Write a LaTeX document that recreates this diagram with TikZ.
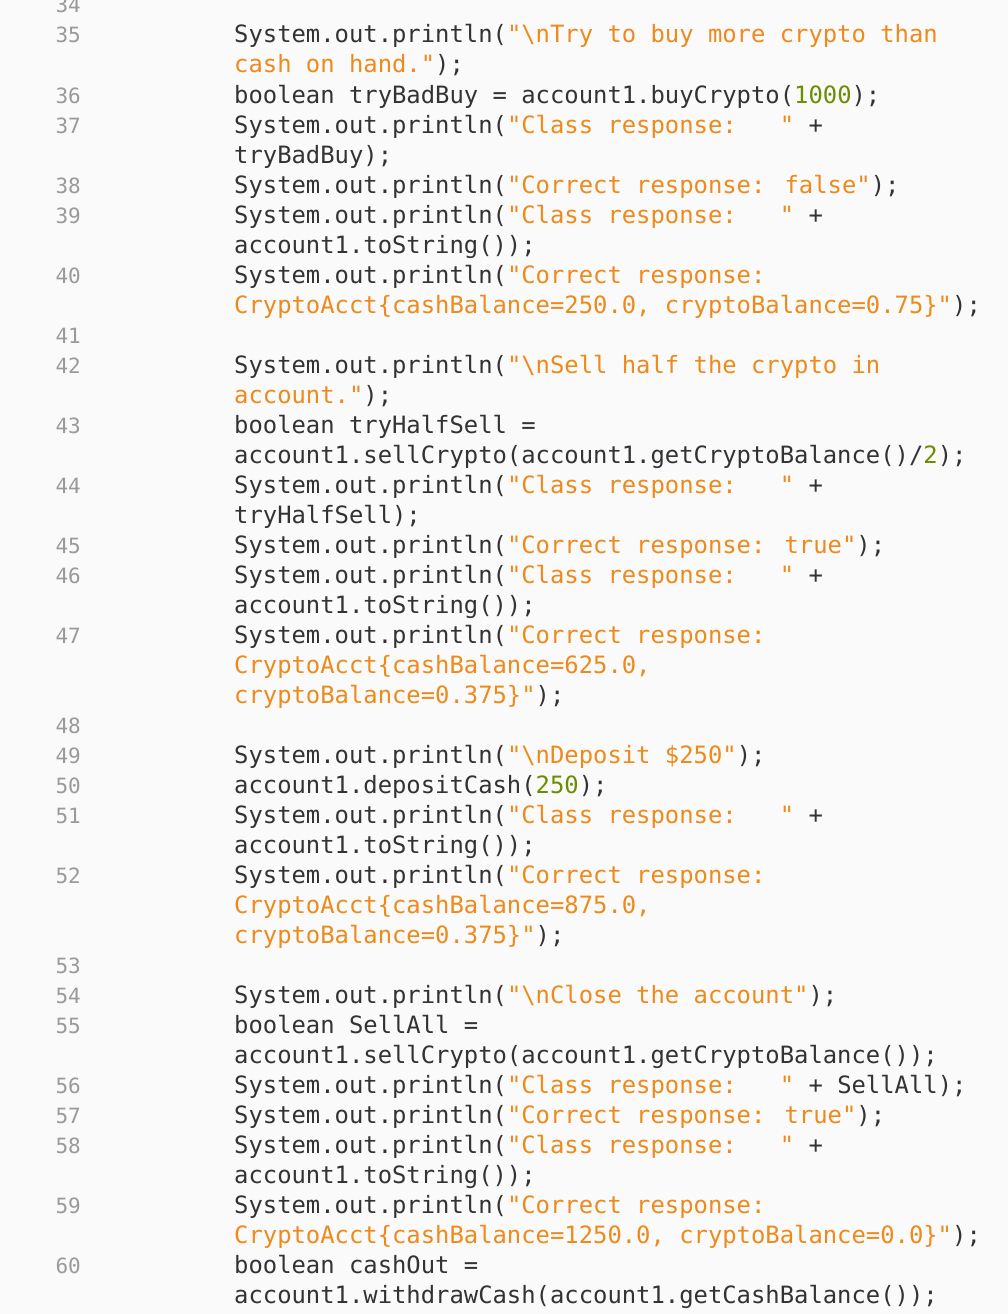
\documentclass[tikz,border=0pt]{standalone}
\usepackage{fontspec}
\newfontfamily\code{DejaVu Sans Mono}
\definecolor{bg}{HTML}{FAFAFA}
\definecolor{txt}{HTML}{333333}
\definecolor{str}{HTML}{EE8A1B}
\definecolor{num}{HTML}{6B8E00}
\definecolor{lno}{HTML}{9A9A9A}
\newcommand{\St}[1]{\textcolor{str}{#1}}
\newcommand{\Nm}[1]{\textcolor{num}{#1}}
\newcommand{\bs}{\textbackslash}
\tikzset{cl/.style={anchor=base west,inner sep=0pt,font=\code\fontsize{23.85}{28}\selectfont,text=txt},
ln/.style={anchor=base east,inner sep=0pt,font=\code\fontsize{21}{26}\selectfont,text=lno}}
\begin{document}
\begin{tikzpicture}[x=1pt,y=-1pt]
\fill[bg] (0,0) rectangle (1008,1314);
\useasboundingbox (0,0) rectangle (1008,1314);
\newcommand{\R}[3]{\node[ln] (n#1) at (81,{43+30*#1}) {#2}; \node[cl] (c#1) at (234,{43+30*#1}) {#3};}
\R{-1}{34}{}
\R{0}{35}{System.out.println(\St{"\bs nTry to buy more crypto than}}
\R{1}{}{\St{cash on hand."});}
\R{2}{36}{boolean tryBadBuy = account1.buyCrypto(\Nm{1000});}
\R{3}{37}{System.out.println(\St{"Class response:\ \ \ "} + }
\R{4}{}{tryBadBuy);}
\R{5}{38}{System.out.println(\St{"Correct response: false"});}
\R{6}{39}{System.out.println(\St{"Class response:\ \ \ "} + }
\R{7}{}{account1.toString());}
\R{8}{40}{System.out.println(\St{"Correct response:}}
\R{9}{}{\St{CryptoAcct\{cashBalance=250.0, cryptoBalance=0.75\}"});}
\R{10}{41}{}
\R{11}{42}{System.out.println(\St{"\bs nSell half the crypto in}}
\R{12}{}{\St{account."});}
\R{13}{43}{boolean tryHalfSell =}
\R{14}{}{account1.sellCrypto(account1.getCryptoBalance()/\Nm{2});}
\R{15}{44}{System.out.println(\St{"Class response:\ \ \ "} + }
\R{16}{}{tryHalfSell);}
\R{17}{45}{System.out.println(\St{"Correct response: true"});}
\R{18}{46}{System.out.println(\St{"Class response:\ \ \ "} + }
\R{19}{}{account1.toString());}
\R{20}{47}{System.out.println(\St{"Correct response:}}
\R{21}{}{\St{CryptoAcct\{cashBalance=625.0,}}
\R{22}{}{\St{cryptoBalance=0.375\}"});}
\R{23}{48}{}
\R{24}{49}{System.out.println(\St{"\bs nDeposit \$250"});}
\R{25}{50}{account1.depositCash(\Nm{250});}
\R{26}{51}{System.out.println(\St{"Class response:\ \ \ "} + }
\R{27}{}{account1.toString());}
\R{28}{52}{System.out.println(\St{"Correct response:}}
\R{29}{}{\St{CryptoAcct\{cashBalance=875.0,}}
\R{30}{}{\St{cryptoBalance=0.375\}"});}
\R{31}{53}{}
\R{32}{54}{System.out.println(\St{"\bs nClose the account"});}
\R{33}{55}{boolean SellAll =}
\R{34}{}{account1.sellCrypto(account1.getCryptoBalance());}
\R{35}{56}{System.out.println(\St{"Class response:\ \ \ "} + SellAll);}
\R{36}{57}{System.out.println(\St{"Correct response: true"});}
\R{37}{58}{System.out.println(\St{"Class response:\ \ \ "} + }
\R{38}{}{account1.toString());}
\R{39}{59}{System.out.println(\St{"Correct response:}}
\R{40}{}{\St{CryptoAcct\{cashBalance=1250.0, cryptoBalance=0.0\}"});}
\R{41}{60}{boolean cashOut =}
\R{42}{}{account1.withdrawCash(account1.getCashBalance());}
\end{tikzpicture}
\end{document}
